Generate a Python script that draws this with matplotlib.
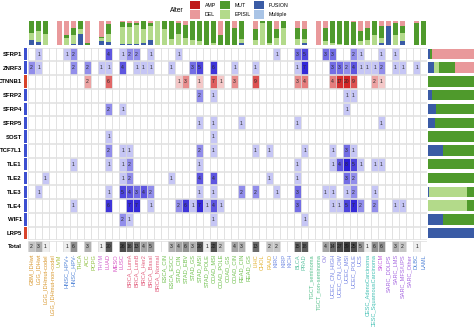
import numpy as np
import matplotlib.pyplot as plt
from matplotlib.patches import Rectangle, Patch
from matplotlib.colors import LinearSegmentedColormap

plt.rcParams['font.family'] = ['Liberation Sans', 'DejaVu Sans']

# --- données ---
cancers = ['GBM_IDHwt', 'LGG_IDHwt', 'LGG_IDHmut-codel', 'LGG_IDHmut-non-codel', 'UVM',
           'HNSC_HPV+', 'HNSC_HPV-', 'THCA', 'ACC', 'PCPG', 'THYM', 'LUAD', 'MESO', 'LUSC',
           'BRCA_LumA', 'BRCA_LumB', 'BRCA_Her2', 'BRCA_Basal', 'BRCA_Normal', 'ESCA_CIN',
           'ESCA_ESCC', 'STAD_CIN', 'STAD_EBV', 'STAD_GS', 'STAD_MSI', 'STAD_POLE', 'COAD_MSI',
           'COAD_POLE', 'COAD_GS', 'COAD_CIN', 'READ_CIN', 'READ_GS', 'LIHC', 'CHOL', 'PAAD',
           'KIRC', 'KIRP', 'KICH', 'BLCA', 'PRAD', 'TGCT_seminoma', 'TGCT_non-seminoma', 'OV',
           'UCEC_CN_HIGH', 'UCEC_CN_LOW', 'UCEC_MSI', 'UCEC_POLE', 'UCS', 'CESC_AdenoCarcinoma',
           'CESC_SquamousCarcinoma', 'SKCM', 'SARC_DDLPS', 'SARC_LMS', 'SARC_MFS/UPS',
           'SARC_Other', 'DLBC', 'LAML']

# couleur des étiquettes par groupe
group_colors = (['#D8962B'] * 4 + ['#A9C23F'] + ['#4F82D6'] * 2 + ['#8DBE3C'] * 3
                + ['#C86AD6'] + ['#D551C3'] * 3 + ['#E2607F'] * 5 + ['#6DBF4B'] * 13
                + ['#E3B12E'] * 3 + ['#6B86E0'] * 3 + ['#5CC2A1'] * 2 + ['#55BF8A'] * 2
                + ['#8B7BE0'] + ['#6F7FE2'] * 5 + ['#3FBFB2'] * 2 + ['#C257DE'] + ['#A566E0'] * 4
                + ['#4F82D6'] * 2)

genes = ['SFRP1', 'ZNRF3', 'CTNNB1', 'SFRP2', 'SFRP4', 'SFRP5', 'SOST', 'TCF7L1',
         'TLE1', 'TLE2', 'TLE3', 'TLE4', 'WIF1', 'LRP5']
oncogenes = ['CTNNB1', 'LRP5']

# nombre d'échantillons altérés : {indice de colonne: valeur}
sfrp1 = {1: 1, 5: 1, 6: 2, 11: 4, 13: 1, 14: 2, 15: 2, 17: 1, 21: 1, 35: 1, 38: 3, 39: 5,
         42: 3, 43: 3, 46: 2, 47: 1, 50: 1, 52: 1}
znrf3 = {0: 2, 1: 1, 6: 2, 8: 2, 10: 1, 11: 1, 13: 4, 15: 1, 16: 1, 17: 1, 20: 1, 23: 3,
         24: 5, 26: 6, 29: 1, 32: 1, 38: 1, 39: 7, 43: 3, 44: 3, 45: 2, 46: 4, 47: 1, 48: 1,
         49: 1, 50: 2, 52: 1, 53: 1, 55: 1}
ctnnb1 = {8: 2, 11: 6, 21: 1, 22: 3, 24: 1, 26: 7, 27: 1, 29: 3, 32: 9, 38: 3, 39: 4,
          43: 4, 44: 17, 45: 20, 46: 9, 49: 2, 50: 1}
sfrp2 = {24: 2, 26: 1, 45: 1, 46: 1}
sfrp4 = {11: 2, 13: 1, 45: 1}
sfrp5 = {24: 1, 26: 1, 30: 1, 38: 1, 50: 1}
sost = {11: 1, 26: 1}
tcf7l1 = {11: 2, 13: 1, 14: 1, 24: 2, 26: 1, 32: 1, 34: 1, 39: 1, 43: 1, 45: 3, 46: 1}
tle1 = {6: 1, 11: 1, 13: 1, 14: 2, 24: 1, 38: 1, 43: 1, 44: 4, 45: 8, 46: 5, 47: 1,
        49: 1, 50: 1}
tle2 = {2: 1, 13: 1, 14: 2, 20: 1, 24: 4, 26: 4, 34: 1, 38: 1, 45: 3, 46: 2}
tle3 = {1: 1, 11: 1, 13: 5, 14: 4, 15: 3, 16: 4, 17: 2, 24: 1, 26: 1, 30: 2, 32: 2,
        35: 1, 38: 3, 42: 1, 43: 1, 45: 1, 46: 2, 49: 1}
tle4 = {6: 1, 11: 6, 14: 7, 15: 7, 17: 1, 21: 2, 22: 6, 23: 1, 24: 7, 25: 1, 26: 4,
        27: 1, 38: 3, 43: 1, 44: 1, 45: 5, 46: 7, 47: 2, 49: 2, 52: 1, 53: 1}
wif1 = {13: 2, 14: 1, 26: 1, 39: 1}
lrp5 = {}
gene_rows = [sfrp1, znrf3, ctnnb1, sfrp2, sfrp4, sfrp5, sost, tcf7l1,
             tle1, tle2, tle3, tle4, wif1, lrp5]

total = {0: 2, 1: 3, 2: 1, 5: 1, 6: 6, 8: 3, 10: 1, 11: 20, 13: 26, 14: 16, 15: 13,
         16: 4, 17: 5, 20: 3, 21: 4, 22: 6, 23: 3, 24: 20, 25: 1, 26: 22, 27: 2, 29: 4,
         30: 3, 32: 13, 34: 2, 35: 2, 38: 15, 39: 18, 42: 4, 43: 14, 44: 27, 45: 39,
         46: 25, 47: 5, 48: 1, 49: 6, 50: 6, 52: 3, 53: 2, 55: 1}

# barres du haut : répartition (%) par type, colonne -> (FUSION, EPISIL, MUT, DEL)
top_split = {0: (22, 30, 48, 0), 1: (12, 45, 43, 0), 2: (0, 45, 55, 0), 4: (0, 0, 0, 100),
             5: (0, 30, 10, 60), 6: (5, 35, 30, 30), 7: (45, 20, 35, 0), 8: (0, 0, 10, 90),
             10: (15, 15, 5, 65), 11: (12, 35, 40, 13), 13: (5, 70, 20, 5),
             14: (5, 72, 15, 8), 15: (4, 80, 6, 10), 16: (10, 55, 35, 0), 17: (22, 58, 12, 8),
             18: (0, 100, 0, 0), 19: (0, 65, 35, 0), 20: (0, 25, 75, 0), 21: (0, 45, 45, 10),
             22: (0, 30, 55, 15), 23: (0, 20, 80, 0), 24: (0, 15, 85, 0), 25: (0, 0, 100, 0),
             26: (0, 10, 90, 0), 27: (0, 0, 40, 60), 28: (0, 0, 100, 0), 29: (0, 0, 70, 30),
             30: (10, 15, 75, 0), 32: (0, 20, 45, 35), 33: (0, 90, 10, 0), 34: (0, 10, 90, 0),
             35: (0, 30, 35, 35), 36: (0, 70, 30, 0), 38: (0, 25, 45, 30),
             39: (10, 15, 40, 35), 41: (0, 0, 0, 100), 42: (0, 15, 55, 30),
             43: (0, 10, 90, 0), 44: (0, 5, 95, 0), 45: (0, 0, 100, 0), 46: (0, 0, 95, 5),
             47: (0, 15, 45, 40), 48: (0, 20, 50, 30), 49: (0, 40, 60, 0),
             50: (10, 20, 50, 20), 51: (80, 0, 0, 20), 52: (0, 40, 50, 10),
             53: (15, 35, 30, 20), 55: (0, 0, 90, 10), 56: (0, 0, 100, 0)}

# panneau de droite : répartition (%) par gène (FUSION, EPISIL, MUT, DEL)
right_split = [(4, 0, 4, 92), (12, 12, 34, 42), (0, 0, 100, 0), (8, 0, 92, 0),
               (17, 0, 83, 0), (15, 0, 85, 0), (0, 0, 100, 0), (33, 0, 67, 0),
               (0, 0, 100, 0), (0, 0, 100, 0), (3, 82, 15, 0), (0, 85, 15, 0),
               (32, 0, 68, 0), (100, 0, 0, 0)]

alter_types = ['AMP', 'DEL', 'MUT', 'EPISIL', 'FUSION', 'Multiple']
alter_colors = {'AMP': '#BF1B1B', 'DEL': '#E9999B', 'MUT': '#4F9A2C',
                'EPISIL': '#B3DA8A', 'FUSION': '#3A5BA5', 'Multiple': '#A9C4E6'}
stack_order = ['FUSION', 'EPISIL', 'MUT', 'DEL']

# --- mise en page ---
W, H = 474, 327
fig = plt.figure(figsize=(W / 100, H / 100), dpi=100)


def box(x0, y0, x1, y1):
    # boîte en pixels (origine en haut à gauche) -> fraction de figure
    return [x0 / W, 1 - y1 / H, (x1 - x0) / W, (y1 - y0) / H]


ax_top = fig.add_axes(box(28, 21, 427, 45))
ax_heat = fig.add_axes(box(28, 47, 427, 240))
ax_tot = fig.add_axes(box(28, 240.5, 427, 252))
ax_right = fig.add_axes(box(428, 47, 474, 240))

n = len(cancers)
blues = LinearSegmentedColormap.from_list('b', ['#C6C6F5', '#2A1ED6'])
reds = LinearSegmentedColormap.from_list('r', ['#F4C8C8', '#D42626'])
greys = LinearSegmentedColormap.from_list('g', ['#EEEEEE', '#383838'])
grid_col = '#D9D9D9'

# barres empilées du haut
cols = sorted(top_split)
bottom = np.zeros(len(cols))
for k, t in enumerate(stack_order):
    vals = np.array([top_split[c][k] for c in cols]) / 100
    ax_top.bar(np.array(cols) + 0.5, vals, width=0.72, bottom=bottom,
               color=alter_colors[t], linewidth=0)
    bottom += vals
ax_top.set_xlim(0, n)
ax_top.set_ylim(0, 1)
ax_top.axis('off')

# heatmap
for i, (g, row) in enumerate(zip(genes, gene_rows)):
    cmap, vmax = (reds, 20) if g in oncogenes else (blues, 8)
    for j in range(n):
        v = row.get(j, 0)
        fc = 'white' if v == 0 else cmap(min(np.log(v) / np.log(vmax), 1))
        ax_heat.add_patch(Rectangle((j, i + 0.04), 1, 0.92, facecolor=fc,
                                    edgecolor=grid_col, linewidth=0.45))
        if v:
            ax_heat.text(j + 0.5, i + 0.52, str(v), ha='center', va='center',
                         fontsize=3.6, color='#2a2a2a')
bar_cols = ['#D8432A' if g in oncogenes else '#3C4FD0' for g in genes]
ax_heat.barh(np.arange(len(genes)) + 0.5, 0.42, left=-0.55, height=0.9,
             color=bar_cols, clip_on=False)
ax_heat.set_xlim(0, n)
ax_heat.set_ylim(len(genes), 0)
ax_heat.set_yticks(np.arange(len(genes)) + 0.5)
ax_heat.set_yticklabels(genes, fontsize=4.3, fontweight='bold')
ax_heat.tick_params(length=0, pad=4.5)
ax_heat.set_xticks([])
for s in ax_heat.spines.values():
    s.set_visible(False)

# ligne Total
for j in range(n):
    v = total.get(j, 0)
    fc = 'white' if v == 0 else greys(np.log(v) / np.log(39) * 0.95 + 0.05 * (v > 1))
    ax_tot.add_patch(Rectangle((j, 0.04), 1, 0.92, facecolor=fc,
                               edgecolor=grid_col, linewidth=0.45))
    if v:
        ax_tot.text(j + 0.5, 0.52, str(v), ha='center', va='center',
                    fontsize=3.6, color='#1a1a1a')
ax_tot.set_xlim(0, n)
ax_tot.set_ylim(1, 0)
ax_tot.set_yticks([0.5])
ax_tot.set_yticklabels(['Total'], fontsize=4.3, fontweight='bold')
ax_tot.set_xticks(np.arange(n) + 0.5)
ax_tot.set_xticklabels(cancers, rotation=90, fontsize=4.1)
for lab, c in zip(ax_tot.get_xticklabels(), group_colors):
    lab.set_color(c)
ax_tot.tick_params(length=0, pad=1.5)
ax_tot.tick_params(axis='y', pad=4.5)
for s in ax_tot.spines.values():
    s.set_visible(False)

# panneau de droite
left = np.zeros(len(genes))
for k, t in enumerate(stack_order):
    vals = np.array([r[k] for r in right_split]) / 100
    ax_right.barh(np.arange(len(genes)) + 0.5, vals, left=left, height=0.76,
                  color=alter_colors[t], linewidth=0)
    left += vals
ax_right.set_xlim(0, 1)
ax_right.set_ylim(len(genes), 0)
ax_right.axis('off')

# légende
handles = [Patch(facecolor=alter_colors[t], edgecolor='none') for t in alter_types]
fig.legend(handles, alter_types, loc='upper left', bbox_to_anchor=(0.394, 1.008),
           ncol=3, fontsize=3.8, frameon=False, handlelength=1.9, handleheight=2.2,
           labelspacing=0.15, handletextpad=0.9, columnspacing=0.7, borderpad=0.1)
fig.text(170 / W, 1 - 10 / H, 'Alter', fontsize=4.8, va='center', ha='left')

plt.savefig('out.png', dpi=100)
